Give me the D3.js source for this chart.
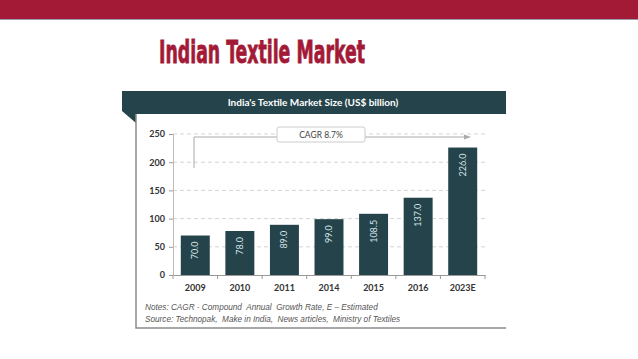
<!DOCTYPE html>
<html lang="en">
<head>
    <meta charset="UTF-8">
    <title>Indian Textile Market</title>
    <script src="https://d3js.org/d3.v7.min.js"></script>
    <style>
        body { margin: 0; background: #fff; }
        svg { display: block; }
    </style>
</head>
<body>
    <div class="viz"></div>

    <script>
        const years = ["2009", "2010", "2011", "2014", "2015", "2016", "2023E"];
        const marketSize = [70.0, 78.0, 89.0, 99.0, 108.5, 137.0, 226.0];
        const yTicks = [0, 50, 100, 150, 200, 250];
        const cagrLabel = "CAGR 8.7%";
        const notes = "Notes: CAGR - Compound  Annual  Growth Rate, E \u2013 Estimated";
        const source = "Source: Technopak,  Make in India,  News articles,  Ministry of Textiles";

        const width = 638, height = 359;
        const dark = "#24434a";

        const svg = d3.select('.viz').append('svg')
            .attr('width', width)
            .attr('height', height);

        // slide header
        svg.append('rect').attr('x', 0).attr('y', 0).attr('width', width).attr('height', 19).attr('fill', '#a31a37');
        svg.append('rect').attr('x', 0).attr('y', 19).attr('width', width).attr('height', 1).attr('fill', '#9a9aae');

        svg.append('text')
            .attr('x', 159).attr('y', 63)
            .attr('textLength', 206)
            .attr('lengthAdjust', 'spacingAndGlyphs')
            .style('font-family', '"DejaVu Sans Condensed", "Liberation Sans Narrow", sans-serif')
            .style('font-weight', 'bold')
            .style('font-stretch', 'condensed')
            .style('font-size', '32px')
            .attr('fill', '#a31a37')
            .attr('stroke', '#a31a37')
            .attr('stroke-width', 0.8)
            .text('Indian Textile Market');

        // panel
        svg.append('path')
            .attr('d', 'M122,91 L506,91 L506,114 L136,114 L136,123 L122,111 Z')
            .attr('fill', dark);
        svg.append('path')
            .attr('d', 'M136,114 L136,328 L506,328')
            .attr('fill', 'none')
            .attr('stroke', '#8c8c8c')
            .attr('stroke-width', 1.5);

        svg.append('text')
            .attr('x', 313).attr('y', 106)
            .attr('text-anchor', 'middle')
            .style('font-family', 'Lato, sans-serif')
            .style('font-weight', 'bold')
            .style('font-size', '10px')
            .attr('fill', '#fff')
            .text("India's Textile Market Size (US$ billion)");

        // chart
        const x = d3.scaleBand().domain(years).range([173, 485]).paddingInner(0.35).paddingOuter(0.175);
        const y = d3.scaleLinear().domain([0, 250]).range([275, 134]);

        const g = svg.append('g');

        g.selectAll('.grid')
            .data(yTicks.filter(d => d > 0))
            .enter().append('line')
            .attr('x1', 173).attr('x2', 485)
            .attr('y1', d => y(d)).attr('y2', d => y(d))
            .attr('stroke', '#d4d4d4')
            .attr('stroke-dasharray', '4,3');

        const yAxis = g.append('g')
            .attr('transform', 'translate(173,0)')
            .call(d3.axisLeft(y).tickValues(yTicks).tickSize(4).tickPadding(4));
        yAxis.select('.domain').attr('stroke', '#bbb');
        yAxis.selectAll('.tick line').attr('stroke', '#999');
        yAxis.selectAll('text')
            .style('font-family', 'Lato, sans-serif').style('font-weight', 'bold')
            .style('font-size', '9px').attr('fill', '#333');

        const xAxis = g.append('g')
            .attr('transform', 'translate(0,275)')
            .call(d3.axisBottom(x).tickSize(0).tickPadding(10));
        xAxis.select('.domain').attr('stroke', '#999');
        xAxis.selectAll('text')
            .style('font-family', 'Lato, sans-serif').style('font-weight', 'bold')
            .style('font-size', '9px').attr('fill', '#333');

        // boundary ticks between categories
        const step = x.step();
        g.selectAll('.btick')
            .data(d3.range(years.length + 1))
            .enter().append('line')
            .attr('x1', i => 173 + i * step).attr('x2', i => 173 + i * step)
            .attr('y1', 275).attr('y2', 279)
            .attr('stroke', '#999');

        g.selectAll('.bar')
            .data(marketSize)
            .enter().append('rect')
            .attr('x', (d, i) => x(years[i]))
            .attr('y', d => y(d))
            .attr('width', x.bandwidth())
            .attr('height', d => y(0) - y(d))
            .attr('fill', dark);

        g.selectAll('.val')
            .data(marketSize)
            .enter().append('text')
            .attr('transform', (d, i) => `translate(${x(years[i]) + x.bandwidth() / 2 + 3},${y(d) + 6}) rotate(-90)`)
            .attr('text-anchor', 'end')
            .style('font-family', 'Lato, sans-serif')
            .style('font-size', '9px')
            .attr('fill', '#d8e6ea')
            .text(d => d.toFixed(1));

        // CAGR annotation
        const cagrY = 137;
        g.append('path')
            .attr('d', `M194,${cagrY + 31} L194,${cagrY} L277,${cagrY}`)
            .attr('fill', 'none').attr('stroke', '#aaa');
        g.append('line')
            .attr('x1', 365).attr('x2', 466).attr('y1', cagrY).attr('y2', cagrY)
            .attr('stroke', '#aaa');
        g.append('path')
            .attr('d', `M471,${cagrY} L464,${cagrY - 2.5} L464,${cagrY + 2.5} Z`)
            .attr('fill', '#aaa');
        g.append('rect')
            .attr('x', 277).attr('y', 127).attr('width', 88).attr('height', 15)
            .attr('rx', 2)
            .attr('fill', '#fff').attr('stroke', '#ccc');
        g.append('text')
            .attr('x', 321).attr('y', 137.5)
            .attr('text-anchor', 'middle')
            .style('font-family', 'Lato, sans-serif')
            .style('font-size', '8.5px')
            .attr('fill', '#444')
            .text(cagrLabel);

        // notes
        svg.selectAll('.note')
            .data([notes, source])
            .enter().append('text')
            .attr('x', 145).attr('y', (d, i) => 310 + i * 12)
            .style('font-family', '"Liberation Sans", Arial, sans-serif')
            .style('font-style', 'italic')
            .style('font-size', '8.2px')
            .attr('fill', '#555')
            .attr('xml:space', 'preserve')
            .text(d => d);
    </script>
</body>
</html>
